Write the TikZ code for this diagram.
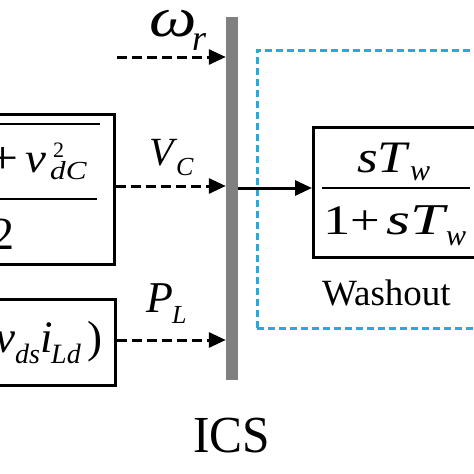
\documentclass[tikz,border=0pt]{standalone}
\usepackage{fontspec}
\usepackage{graphicx}
\setmainfont{Liberation Serif}
\usetikzlibrary{arrows.meta}
\definecolor{barGray}{RGB}{128,128,128}
\definecolor{washBlue}{RGB}{35,170,225}
\newcommand{\fs}[1]{\fontsize{#1}{#1}\selectfont}
\newcommand{\hs}[2]{\scalebox{#1}[1]{#2}}
\begin{document}
\begin{tikzpicture}[x=1pt,y=-1pt,
  lbl/.style={inner sep=0pt, anchor=base west},
  blk/.style={draw=black, line width=3pt, inner sep=0pt, rectangle},
  sig/.style={line width=3pt, dash pattern=on 10pt off 5pt, -{Triangle[length=17pt,width=15pt]}},
  flow/.style={line width=3pt, -{Triangle[length=17pt,width=15pt]}},
  thinrule/.style={line width=2pt}]
\useasboundingbox (0,0) rectangle (474,474);
\clip (0,0) rectangle (474,474);
\fill[white] (0,0) rectangle (474,474);

% blocks
\node[blk, minimum width=174pt, minimum height=150pt] (box1) at (27,189) {};
\node[blk, minimum width=175pt, minimum height=86pt] (box2) at (27.5,342) {};
\node[blk, minimum width=206pt, minimum height=130pt] (wash) at (416.5,192.5) {};
\node[rectangle, fill=barGray, inner sep=0pt, minimum width=12pt, minimum height=363pt] (bar) at (232,198.5) {};
\node[draw=washBlue, line width=3pt, dash pattern=on 7pt off 4pt, inner sep=0pt, rectangle,
      minimum width=270pt, minimum height=278pt] (grp) at (392,189) {};

% box1 contents
\draw[thinrule] (box1.north west |- 0,124) -- (100,124);
\draw[thinrule] (box1.north west |- 0,199) -- (97,199);
\node[inner sep=0pt, anchor=base] (plus1) at (3,173) {\fs{46}\hs{1.2}{+}};
\node[lbl] (v1) at (25,172) {\fs{42}\hs{1.12}{\textit{v}}};
\node[lbl] (v1sup) at (53,157) {\fs{22}2};
\node[lbl] (v1sub) at (50,179) {\fs{26}\hs{1.2}{\textit{dC}}};
\node[lbl] (two1) at (-9,249) {\fs{46}2};

% box2 contents
\node[inner sep=0pt, anchor=base east] (v2) at (16,352) {\fs{45}\textit{v}};
\node[lbl] (v2sub) at (15,363) {\fs{28}\textit{ds}};
\node[lbl] (i2) at (40,352) {\fs{45}\textit{i}};
\node[lbl] (i2sub) at (51,363) {\fs{28}\textit{Ld}};
\node[lbl] (par2) at (87,352) {\fs{45})};

% washout contents
\draw[thinrule] (322,188) -- (470,188);
\node[lbl] (num) at (357,172) {\fs{45}\hs{1.18}{\textit{sT}}};
\node[lbl] (numw) at (410,180) {\fs{30}\textit{w}};
\node[lbl] (den1) at (323,234) {\fs{42}\hs{1.3}{1}};
\node[lbl] (denp) at (350,234) {\fs{42}\hs{1.25}{+}};
\node[lbl] (dens) at (386,234) {\fs{44}\hs{1.4}{\textit{sT}}};
\node[lbl] (denw) at (446,245) {\fs{30}\textit{w}};
\node[lbl] (washlbl) at (322,305) {\fs{37}Washout};

% signal labels
\node[lbl] (om) at (149,36) {\fs{56}\hs{1.2}{\textit{ω}}};
\node[lbl] (omr) at (192,50) {\fs{36}\textit{r}};
\node[lbl] (vc) at (149,165) {\fs{40}\textit{V}};
\node[lbl] (vcs) at (176,175) {\fs{26}\textit{C}};
\node[lbl] (pl) at (146,312) {\fs{44}\textit{P}};
\node[lbl] (pls) at (172,323) {\fs{26}\textit{L}};
\node[inner sep=0pt, anchor=base] (ics) at (231.5,452) {\fs{52}\hs{0.95}{ICS}};

% connectors
\coordinate (wstart) at (117,57);
\draw[sig] (wstart) -- (wstart -| bar.west);
\draw[sig] ([yshift=3pt]box1.east) -- ([yshift=3pt]box1.east -| bar.west);
\draw[sig] ([yshift=2pt]box2.east) -- ([yshift=2pt]box2.east -| bar.west);
\draw[flow] ([yshift=4.5pt]wash.west -| bar.east) -- ([yshift=4.5pt]wash.west);
\end{tikzpicture}
\end{document}
